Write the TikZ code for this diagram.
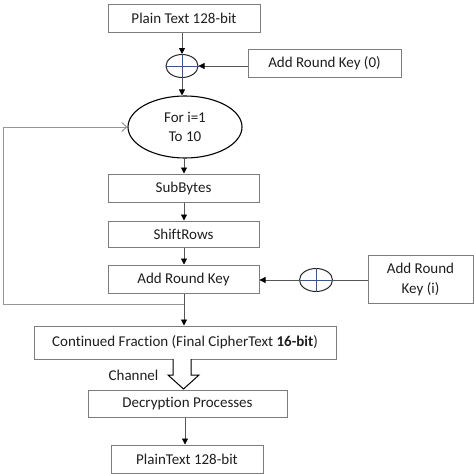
\documentclass[tikz,border=0pt]{standalone}
\usepackage{fontspec}
\setmainfont[Ligatures=NoCommon]{Carlito}
\usetikzlibrary{arrows.meta,shapes.geometric}
\definecolor{boxgray}{RGB}{125,125,125}
\definecolor{linegray}{RGB}{85,85,85}
\definecolor{loopgray}{RGB}{150,150,150}
\definecolor{txt}{RGB}{30,30,30}
\definecolor{xblue}{RGB}{60,85,130}
\begin{document}
\begin{tikzpicture}[x=1pt,y=-1pt,
  box/.style={draw=boxgray,line width=1pt,inner sep=0pt,font=\fontsize{15pt}{18pt}\selectfont,text=txt,align=center},
  xorn/.style={draw=black!85,line width=1pt,ellipse,inner sep=0pt,minimum width=32pt,minimum height=23pt},
  cross/.style={draw=xblue,line width=0.9pt},
  conn/.style={draw=linegray,line width=0.8pt,-{Triangle[length=6pt,width=6pt,color=black]}},
  plainconn/.style={draw=linegray,line width=0.8pt},
  loopconn/.style={draw=loopgray,line width=1pt,-{Straight Barb[length=5pt,width=9pt]}},
  hollow/.style={draw=black,line width=1pt,fill=white},
  lbl/.style={inner sep=0pt,font=\fontsize{15pt}{18pt}\selectfont,text=txt}
]
\useasboundingbox (0,0) rectangle (474,474);

\node[box,minimum width=152pt,minimum height=28pt] (pt1) at (184,18) {Plain Text 128-bit};
\node[xorn] (xor1) at (182,66) {};
\node[box,minimum width=153pt,minimum height=28pt] (ark0) at (324.5,63) {Add Round Key (0)};
\node[draw=black,line width=1.1pt,ellipse,inner sep=0pt,minimum width=114pt,minimum height=62pt,font=\fontsize{15pt}{18pt}\selectfont,text=txt,align=center] (forloop) at (185,127) {For i=1\\[1pt]To 10};
\node[box,minimum width=151pt,minimum height=28pt] (sub) at (183.5,188) {SubBytes};
\node[box,minimum width=151pt,minimum height=26pt] (shift) at (183.5,234) {ShiftRows};
\node[box,minimum width=151pt,minimum height=28pt] (ark) at (183.5,279) {Add Round Key};
\node[xorn,minimum width=33pt] (xor2) at (316,280) {};
\node[box,minimum width=105pt,minimum height=48pt] (arki) at (420.5,279) {Add Round\\[2pt]Key (i)};
\node[box,minimum width=302pt,minimum height=33pt] (cf) at (185,342.5) {Continued Fraction (Final CipherText \textbf{16-bit})};
\node[box,minimum width=199pt,minimum height=27pt] (dec) at (187.5,403.5) {Decryption Processes};
\node[box,minimum width=152pt,minimum height=28pt] (pt2) at (187,459) {PlainText 128-bit};
\node[lbl] (chan) at (133.5,375) {Channel};

% xor crosses
\draw[cross] (xor1.north) -- (xor1.south);
\draw[cross] (xor1.west) -- (xor1.east);
\draw[cross] (xor2.north) -- (xor2.south);
\draw[cross] (xor2.west) -- (xor2.east);

% connectors
\draw[conn] (pt1.south -| xor1.north) -- (xor1.north);
\draw[conn] (xor1.south) -- (xor1.south |- forloop.north);
\draw[conn] (ark0.west |- xor1.east) -- (xor1.east);
\draw[conn] (forloop.south -| 184,0) -- (184,0 |- sub.north);
\draw[conn] (sub.south -| 184,0) -- (184,0 |- shift.north);
\draw[conn] (shift.south -| 184,0) -- (184,0 |- ark.north);
\draw[plainconn] (arki.west |- xor2.east) -- (xor2.east);
\draw[conn] (xor2.west) -- (ark.east |- xor2.west);
\draw[conn] (ark.south -| 184,0) -- (184,0 |- cf.north);
\coordinate (lp) at (184,304);
\coordinate (lc) at (3,304);
\draw[loopconn] (lp) -- (lc) |- (forloop.west);
\draw[conn] (dec.south -| 185,0) -- (185,0 |- pt2.north);

% hollow channel arrow
\draw[hollow] (173,359) -- (173,375) -- (168,375) -- (183.5,389) -- (199,375) -- (191,375) -- (191,359);
\end{tikzpicture}
\end{document}
